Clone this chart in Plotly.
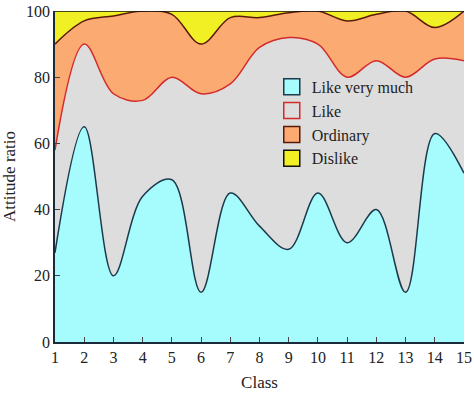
import plotly.graph_objects as go

classes = list(range(1, 16))
like_very_much = [27, 65, 20, 44, 49, 15, 45, 35, 28, 45, 30, 40, 15, 63, 51]
like_top = [58, 90, 75, 73, 80, 75, 78, 89, 92, 90, 80, 85, 80, 85.5, 85]
ordinary_top = [90, 97, 98.5, 100, 99, 90, 98, 98, 99.5, 100, 97, 99, 100, 95, 100]
dislike_top = [100] * 15
x_ticks = list(range(1, 16))
y_ticks = [0, 20, 40, 60, 80, 100]

series_names = ["Like very much", "Like", "Ordinary", "Dislike"]
fill_colors = ["#A6FCFD", "#DDDDDD", "#FBAB72", "#F0F024"]
line_colors = ["#1B3A4B", "#D42A2A", "#5A1A0A", "#111111"]

FONT = "Liberation Serif, Times New Roman, serif"

fig = go.Figure()
tops = [like_very_much, like_top, ordinary_top, dislike_top]
for i, (name, top) in enumerate(zip(series_names, tops)):
    fig.add_trace(go.Scatter(
        x=classes, y=top, name=name, mode="lines", showlegend=False,
        line=dict(color=line_colors[i], width=1.5,
                  shape="spline" if i < 3 else "linear", smoothing=1.0),
        fill="tozeroy" if i == 0 else "tonexty", fillcolor=fill_colors[i]))

# legend entries (box-style symbols)
for i, name in enumerate(series_names):
    fig.add_trace(go.Scatter(
        x=[None], y=[None], name=name, mode="markers", showlegend=True,
        marker=dict(symbol="square", size=16, color=fill_colors[i],
                    line=dict(color=line_colors[i], width=1.5))))

fig.update_layout(
    width=474, height=395,
    margin=dict(l=55, r=10, t=11, b=53),
    paper_bgcolor="white", plot_bgcolor="white",
    font=dict(family=FONT, size=17, color="#222"),
    showlegend=True,
    legend=dict(x=0.53, y=0.822, xanchor="left", yanchor="top", traceorder="normal",
                bgcolor="rgba(0,0,0,0)", font=dict(family=FONT, size=16, color="#222"),
                tracegroupgap=0, itemwidth=30),
    xaxis=dict(range=[1, 15], tickvals=x_ticks, ticks="inside", ticklen=5, automargin=False,
               showgrid=False, zeroline=False, showline=True, linecolor="#1a2a3a", linewidth=1.5,
               tickfont=dict(family=FONT, size=16),
               title=dict(text="Class", font=dict(family=FONT, size=17), standoff=11)),
    yaxis=dict(range=[0, 100], tickvals=y_ticks, ticks="inside", ticklen=5, automargin=False,
               showgrid=False, zeroline=False, showline=True, linecolor="#1a2a3a", linewidth=1.5,
               tickfont=dict(family=FONT, size=16),
               title=dict(text="Attitude ratio", font=dict(family=FONT, size=17), standoff=7)),
)

fig.write_html("out.html",
               config={"displayModeBar": False},
               post_script="document.body.style.margin='0';document.body.style.overflow='hidden';")
